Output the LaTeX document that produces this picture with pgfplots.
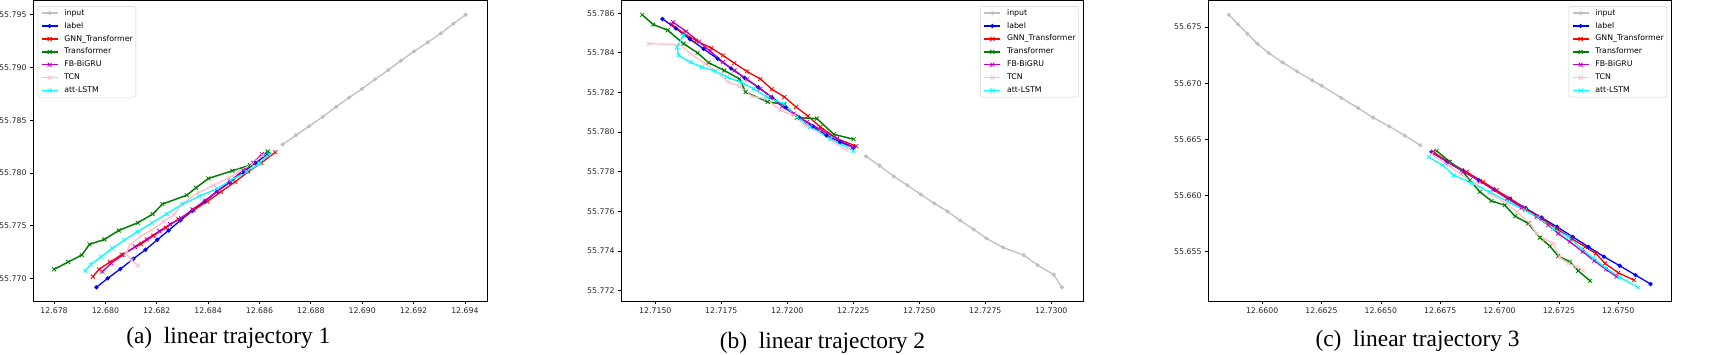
\documentclass[border=0pt]{standalone}
\usepackage{pgfplots}
\pgfplotsset{compat=1.18}
\usepackage{fontspec}
\setmainfont{Liberation Serif}
\newfontfamily\dejavu{DejaVu Sans}
\definecolor{cInput}{RGB}{191,191,191}
\definecolor{cGreen}{RGB}{0,128,0}
\definecolor{cMag}{RGB}{191,0,191}
\definecolor{cPink}{RGB}{255,192,203}
\definecolor{cCyan}{RGB}{0,255,255}
\pgfplotsset{
  traj/.style={
    scale only axis,
    axis line style={black, line width=0.9pt},
    tick align=outside, major tick length=3pt,
    tick style={black, line width=0.7pt},
    xtick pos=bottom, ytick pos=left,
    scaled ticks=false,
    ticklabel style={font=\dejavu\fontsize{7.8}{8}\selectfont, text=black!85},
    legend cell align=left,
    legend image code/.code={\draw[mark repeat=2,mark phase=2] plot coordinates {(0pt,0pt) (8pt,0pt) (16pt,0pt)};},
    legend style={font=\dejavu\fontsize{7.8}{8}\selectfont, draw=black!20, rounded corners=2pt,
      inner xsep=3pt, inner ysep=3pt, row sep=5.5pt,
      nodes={inner sep=0pt, text height=5.8pt, text depth=1.6pt},
      /tikz/every odd column/.append style={column sep=6pt}},
  },
  sIn/.style={color=cInput, line width=1.3pt, mark=*, mark size=1.3pt},
  sLab/.style={color=blue, line width=1.3pt, mark=*, mark size=1.4pt},
  sGnn/.style={color=red, line width=1.3pt, mark=x, mark size=2.8pt, mark options={line width=0.8pt}},
  sTr/.style={color=cGreen, line width=1.5pt, mark=x, mark size=2.8pt, mark options={line width=0.8pt}},
  sBi/.style={color=cMag, line width=1.3pt, mark=x, mark size=2.8pt, mark options={line width=0.8pt}},
  sTcn/.style={color=cPink, line width=1.3pt, mark=x, mark size=2.8pt, mark options={line width=0.8pt}},
  sAtt/.style={color=cCyan, line width=1.3pt, mark=x, mark size=2.8pt, mark options={line width=0.8pt}},
}
\begin{document}
\begin{tikzpicture}
\path[use as bounding box] (0pt,0pt) rectangle (1717pt,354pt);
\clip (0pt,0pt) rectangle (1717pt,354pt);
% ---------------- (a) ----------------
\begin{axis}[traj, at={(33pt,53pt)}, anchor=south west, width=454pt, height=300.5pt,
  xmin=12.67718, xmax=12.69486, ymin=55.76785, ymax=55.79635,
  xtick={12.678,12.680,12.682,12.684,12.686,12.688,12.690,12.692,12.694},
  xticklabels={12.678,12.680,12.682,12.684,12.686,12.688,12.690,12.692,12.694},
  ytick={55.770,55.775,55.780,55.785,55.790,55.795},
  yticklabels={55.770,55.775,55.780,55.785,55.790,55.795},
  legend style={at={(0,1)}, anchor=north west, xshift=4.7pt, yshift=-5.7pt}]
\addplot[sIn] coordinates {(12.68690,55.78269) (12.68742,55.78357) (12.68793,55.78442) (12.68846,55.78531) (12.68898,55.78626) (12.68949,55.78714) (12.68999,55.78796) (12.69050,55.78888) (12.69102,55.78976) (12.69151,55.79065) (12.69202,55.79153) (12.69255,55.79238) (12.69306,55.79323) (12.69355,55.79415) (12.69403,55.79500)};
\addplot[sLab] coordinates {(12.68635,55.78184) (12.68584,55.78092) (12.68535,55.78007) (12.68484,55.77909) (12.68435,55.77824) (12.68387,55.77729) (12.68339,55.77641) (12.68292,55.77549) (12.68246,55.77454) (12.68202,55.77366) (12.68156,55.77271) (12.68109,55.77186) (12.68058,55.77088) (12.68009,55.77000) (12.67965,55.76915)};
\addplot[sGnn] coordinates {(12.68662,55.78196) (12.68607,55.78095) (12.68557,55.78013) (12.68505,55.77915) (12.68450,55.77821) (12.68397,55.77729) (12.68343,55.77647) (12.68284,55.77559) (12.68235,55.77480) (12.68187,55.77404) (12.68139,55.77325) (12.68063,55.77224) (12.68018,55.77155) (12.67975,55.77085) (12.67951,55.77016)};
\addplot[sTr] coordinates {(12.68632,55.78203) (12.68563,55.78073) (12.68494,55.78020) (12.68401,55.77947) (12.68353,55.77859) (12.68317,55.77789) (12.68222,55.77704) (12.68184,55.77609) (12.68126,55.77527) (12.68052,55.77454) (12.67996,55.77369) (12.67938,55.77322) (12.67908,55.77221) (12.67855,55.77155) (12.67800,55.77085)};
\addplot[sBi] coordinates {(12.68609,55.78177) (12.68576,55.78095) (12.68537,55.78026) (12.68485,55.77919) (12.68437,55.77830) (12.68389,55.77739) (12.68339,55.77653) (12.68295,55.77571) (12.68252,55.77514) (12.68210,55.77448) (12.68161,55.77372) (12.68115,55.77300) (12.68070,55.77224) (12.68022,55.77142) (12.67988,55.77063)};
\addplot[sTcn] coordinates {(12.68612,55.78165) (12.68570,55.78083) (12.68524,55.78020) (12.68485,55.77956) (12.68420,55.77881) (12.68362,55.77811) (12.68297,55.77704) (12.68265,55.77600) (12.68226,55.77537) (12.68180,55.77458) (12.68135,55.77395) (12.68096,55.77316) (12.68080,55.77237) (12.68102,55.77174) (12.68127,55.77120)};
\addplot[sAtt] coordinates {(12.68636,55.78177) (12.68602,55.78089) (12.68550,55.78010) (12.68489,55.77931) (12.68436,55.77852) (12.68365,55.77777) (12.68300,55.77704) (12.68239,55.77612) (12.68182,55.77527) (12.68124,55.77442) (12.68074,55.77363) (12.68027,55.77284) (12.67983,55.77205) (12.67944,55.77133) (12.67922,55.77073)};
\legend{input,label,GNN\_Transformer,Transformer,FB-BiGRU,TCN,att-LSTM}
\end{axis}
% ---------------- (b) ----------------
\begin{axis}[traj, at={(621pt,53pt)}, anchor=south west, width=462pt, height=300.5pt,
  xmin=12.7137, xmax=12.7312, ymin=55.77148, ymax=55.78664,
  xtick={12.7150,12.7175,12.7200,12.7225,12.7250,12.7275,12.7300},
  xticklabels={12.7150,12.7175,12.7200,12.7225,12.7250,12.7275,12.7300},
  ytick={55.772,55.774,55.776,55.778,55.780,55.782,55.784,55.786},
  yticklabels={55.772,55.774,55.776,55.778,55.780,55.782,55.784,55.786},
  legend style={at={(1,1)}, anchor=north east, xshift=-4.3pt, yshift=-5.7pt}]
\addplot[sIn] coordinates {(12.73040,55.77217) (12.73009,55.77281) (12.72948,55.77329) (12.72895,55.77380) (12.72817,55.77418) (12.72754,55.77464) (12.72706,55.77509) (12.72655,55.77554) (12.72607,55.77600) (12.72557,55.77640) (12.72506,55.77685) (12.72455,55.77732) (12.72403,55.77777) (12.72349,55.77831) (12.72298,55.77878)};
\addplot[sLab] coordinates {(12.72251,55.77922) (12.72200,55.77950) (12.72148,55.77984) (12.72096,55.78029) (12.72044,55.78076) (12.71994,55.78125) (12.71942,55.78175) (12.71890,55.78226) (12.71838,55.78274) (12.71787,55.78321) (12.71736,55.78370) (12.71683,55.78420) (12.71631,55.78469) (12.71578,55.78523) (12.71527,55.78571)};
\addplot[sGnn] coordinates {(12.72261,55.77929) (12.72188,55.77967) (12.72125,55.78026) (12.72078,55.78081) (12.72033,55.78127) (12.71989,55.78177) (12.71941,55.78217) (12.71898,55.78268) (12.71847,55.78306) (12.71799,55.78348) (12.71756,55.78387) (12.71712,55.78424) (12.71654,55.78462) (12.71604,55.78501) (12.71563,55.78543)};
\addplot[sTr] coordinates {(12.72251,55.77964) (12.72176,55.77989) (12.72112,55.78068) (12.72037,55.78073) (12.71989,55.78140) (12.71926,55.78152) (12.71842,55.78202) (12.71818,55.78269) (12.71761,55.78311) (12.71702,55.78350) (12.71660,55.78400) (12.71607,55.78446) (12.71547,55.78514) (12.71492,55.78543) (12.71450,55.78592)};
\addplot[sBi] coordinates {(12.72249,55.77925) (12.72188,55.77967) (12.72131,55.78009) (12.72075,55.78051) (12.72024,55.78093) (12.71980,55.78130) (12.71938,55.78177) (12.71898,55.78219) (12.71847,55.78266) (12.71800,55.78311) (12.71756,55.78353) (12.71708,55.78409) (12.71665,55.78456) (12.71617,55.78508) (12.71567,55.78555)};
\addplot[sTcn] coordinates {(12.72226,55.77908) (12.72176,55.77950) (12.72119,55.78001) (12.72068,55.78034) (12.72024,55.78085) (12.71973,55.78110) (12.71918,55.78169) (12.71866,55.78180) (12.71819,55.78231) (12.71775,55.78253) (12.71734,55.78303) (12.71689,55.78345) (12.71633,55.78395) (12.71595,55.78441) (12.71475,55.78446)};
\addplot[sAtt] coordinates {(12.72251,55.77905) (12.72163,55.77967) (12.72087,55.78026) (12.72037,55.78076) (12.71986,55.78143) (12.71923,55.78177) (12.71872,55.78219) (12.71822,55.78253) (12.71771,55.78278) (12.71727,55.78308) (12.71677,55.78328) (12.71633,55.78353) (12.71588,55.78387) (12.71582,55.78429) (12.71607,55.78488)};
\legend{input,label,GNN\_Transformer,Transformer,FB-BiGRU,TCN,att-LSTM}
\end{axis}
% ---------------- (c) ----------------
\begin{axis}[traj, at={(1208pt,53pt)}, anchor=south west, width=463pt, height=300.5pt,
  xmin=12.65772, xmax=12.67722, ymin=55.65062, ymax=55.67737,
  xtick={12.6600,12.6625,12.6650,12.6675,12.6700,12.6725,12.6750},
  xticklabels={12.6600,12.6625,12.6650,12.6675,12.6700,12.6725,12.6750},
  ytick={55.655,55.660,55.665,55.670,55.675},
  yticklabels={55.655,55.660,55.665,55.670,55.675},
  legend style={at={(1,1)}, anchor=north east, xshift=-4pt, yshift=-5.7pt}]
\addplot[sIn] coordinates {(12.65860,55.67610) (12.65899,55.67524) (12.65938,55.67441) (12.65980,55.67352) (12.66028,55.67269) (12.66086,55.67186) (12.66147,55.67106) (12.66211,55.67026) (12.66250,55.66979) (12.66334,55.66869) (12.66404,55.66780) (12.66468,55.66694) (12.66535,55.66617) (12.66601,55.66534) (12.66666,55.66448)};
\addplot[sLab] coordinates {(12.66713,55.66389) (12.66779,55.66303) (12.66846,55.66220) (12.66912,55.66137) (12.66978,55.66054) (12.67044,55.65971) (12.67110,55.65888) (12.67176,55.65805) (12.67242,55.65722) (12.67308,55.65633) (12.67374,55.65544) (12.67440,55.65456) (12.67506,55.65376) (12.67572,55.65293) (12.67636,55.65213)};
\addplot[sGnn] coordinates {(12.66720,55.66389) (12.66784,55.66300) (12.66861,55.66211) (12.66931,55.66122) (12.66987,55.66048) (12.67044,55.65974) (12.67107,55.65885) (12.67177,55.65796) (12.67240,55.65707) (12.67303,55.65619) (12.67360,55.65544) (12.67406,55.65485) (12.67444,55.65396) (12.67500,55.65313) (12.67566,55.65248)};
\addplot[sTr] coordinates {(12.66735,55.66398) (12.66791,55.66300) (12.66840,55.66226) (12.66875,55.66137) (12.66917,55.66033) (12.66966,55.65953) (12.67022,55.65915) (12.67065,55.65817) (12.67121,55.65752) (12.67170,55.65627) (12.67212,55.65550) (12.67247,55.65462) (12.67296,55.65411) (12.67331,55.65331) (12.67381,55.65242)};
\addplot[sBi] coordinates {(12.66718,55.66380) (12.66784,55.66294) (12.66847,55.66214) (12.66917,55.66128) (12.66973,55.66054) (12.67032,55.65974) (12.67093,55.65894) (12.67156,55.65811) (12.67205,55.65737) (12.67247,55.65663) (12.67296,55.65589) (12.67350,55.65501) (12.67399,55.65420) (12.67448,55.65343) (12.67493,55.65278)};
\addplot[sTcn] coordinates {(12.66713,55.66368) (12.66784,55.66270) (12.66833,55.66196) (12.66896,55.66107) (12.66959,55.66019) (12.67015,55.65944) (12.67072,55.65856) (12.67128,55.65752) (12.67156,55.65663) (12.67191,55.65610) (12.67226,55.65574) (12.67254,55.65450) (12.67289,55.65396) (12.67324,55.65367) (12.67353,55.65331)};
\addplot[sAtt] coordinates {(12.66702,55.66344) (12.66760,55.66270) (12.66808,55.66181) (12.66882,55.66113) (12.66959,55.66033) (12.67036,55.65944) (12.67107,55.65870) (12.67163,55.65805) (12.67226,55.65707) (12.67289,55.65633) (12.67345,55.65530) (12.67395,55.65441) (12.67444,55.65361) (12.67507,55.65272) (12.67584,55.65183)};
\legend{input,label,GNN\_Transformer,Transformer,FB-BiGRU,TCN,att-LSTM}
\end{axis}
% captions
\node[anchor=base, inner sep=0pt, font=\fontsize{23.4}{26}\selectfont] at (228.3pt,10.7pt) {(a)\enspace linear trajectory 1};
\node[anchor=base, inner sep=0pt, font=\fontsize{23.4}{26}\selectfont] at (822.5pt,5.7pt) {(b)\enspace linear trajectory 2};
\node[anchor=base, inner sep=0pt, font=\fontsize{23.4}{26}\selectfont] at (1417.5pt,7.3pt) {(c)\enspace linear trajectory 3};
\end{tikzpicture}
\end{document}
